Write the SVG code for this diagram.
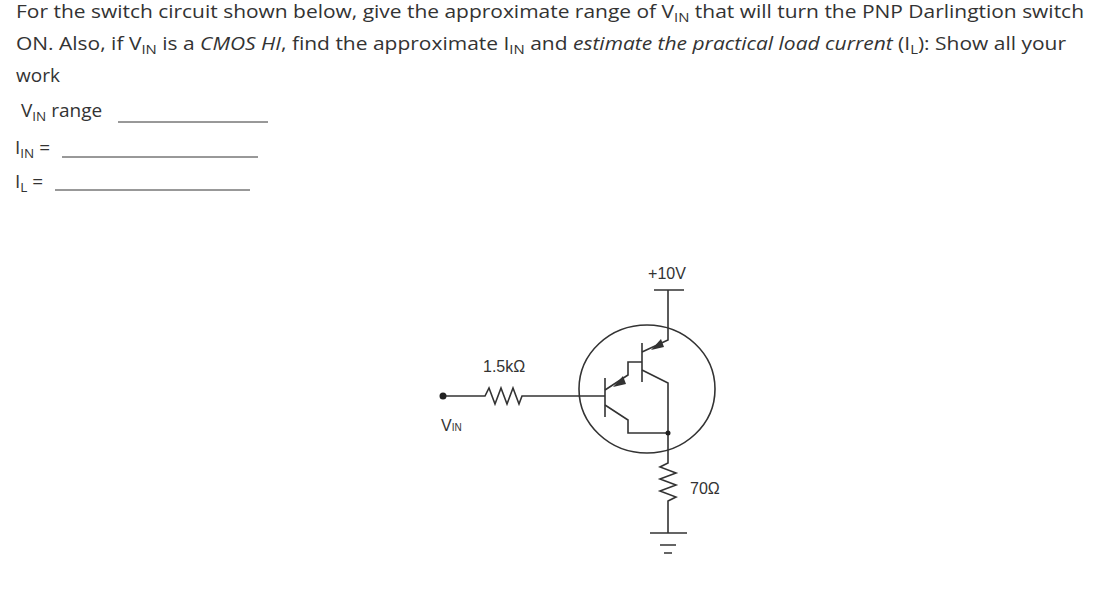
<svg xmlns="http://www.w3.org/2000/svg" width="1119" height="589" viewBox="0 0 1119 589">
<style>
.q{font-family:"Open Sans","Noto Sans",sans-serif;font-size:19px;fill:#333}
.s{font-size:13.5px}
.c{font-family:"Liberation Sans",Arial,sans-serif;font-size:16px;fill:#333}
.w{stroke:#333;stroke-width:1.6;fill:none}
.u{stroke:#333;stroke-width:1}
</style>
<rect width="1119" height="589" fill="#fff"/>
<g id="question">
<text class="q" x="16" y="18" textLength="1068" lengthAdjust="spacingAndGlyphs">For the switch circuit shown below, give the approximate range of V<tspan class="s" dy="4">IN</tspan><tspan dy="-4"> that will turn the PNP Darlingtion switch</tspan></text>
<text class="q" x="16" y="50" textLength="1050" lengthAdjust="spacingAndGlyphs">ON. Also, if V<tspan class="s" dy="4">IN</tspan><tspan dy="-4"> is a </tspan><tspan font-style="italic">CMOS HI</tspan>, find the approximate I<tspan class="s" dy="4">IN</tspan><tspan dy="-4"> and </tspan><tspan font-style="italic">estimate the practical load current</tspan> (I<tspan class="s" dy="4">L</tspan><tspan dy="-4">): Show all your</tspan></text>
<text class="q" x="16" y="82">work</text>
<text class="q" x="21" y="117">V<tspan class="s" dy="4">IN</tspan><tspan dy="-4"> range</tspan></text>
<line class="u" x1="118" y1="122" x2="268" y2="122"/>
<text class="q" x="15" y="154">I<tspan class="s" dy="4">IN</tspan><tspan dy="-4"> =</tspan></text>
<line class="u" x1="62" y1="157" x2="258" y2="157"/>
<text class="q" x="15" y="188">I<tspan class="s" dy="4">L</tspan><tspan dy="-4"> =</tspan></text>
<line class="u" x1="55" y1="190" x2="250" y2="190"/>
</g>
<g id="labels">
<text class="c" x="667" y="279" text-anchor="middle">+10V</text>
<text class="c" x="483" y="372">1.5kΩ</text>
<text class="c" x="441" y="431" font-size="13">V<tspan font-size="10">IN</tspan></text>
<text class="c" x="690" y="494">70Ω</text>
</g>
<g id="darlington">
<ellipse class="w" cx="647" cy="389" rx="68" ry="64" stroke-width="1.2"/>
<line class="w" x1="642" y1="343" x2="642" y2="382" stroke-width="2"/>
<line class="w" x1="605" y1="378" x2="605" y2="417" stroke-width="2"/>
<polygon points="651,350 661,339 664,347" fill="#333"/>
<polygon points="613,387 623,376 626,384" fill="#333"/>
</g>
<g id="connectors">
<path class="w" d="M654,290H684M668,290V340L642,352"/>
<path class="w" d="M642,370L668,383V433"/>
<path class="w" d="M642,362H628V375L605,390"/>
<path class="w" d="M605,405L628,420V433H668"/>
<path class="w" d="M443,396H485l4,-8l6,16l6,-16l6,16l6,-16l6,16l3,-8H605"/>
<path class="w" d="M668,433V463l-8,4l16,6l-16,6l16,6l-16,6l16,6l-8,4V533M650,533H687M660,545H676M664,553H672"/>
<circle cx="443" cy="396" r="3.5" fill="#222"/>
<circle cx="668" cy="433" r="2.5" fill="#222"/>
</g>
</svg>
